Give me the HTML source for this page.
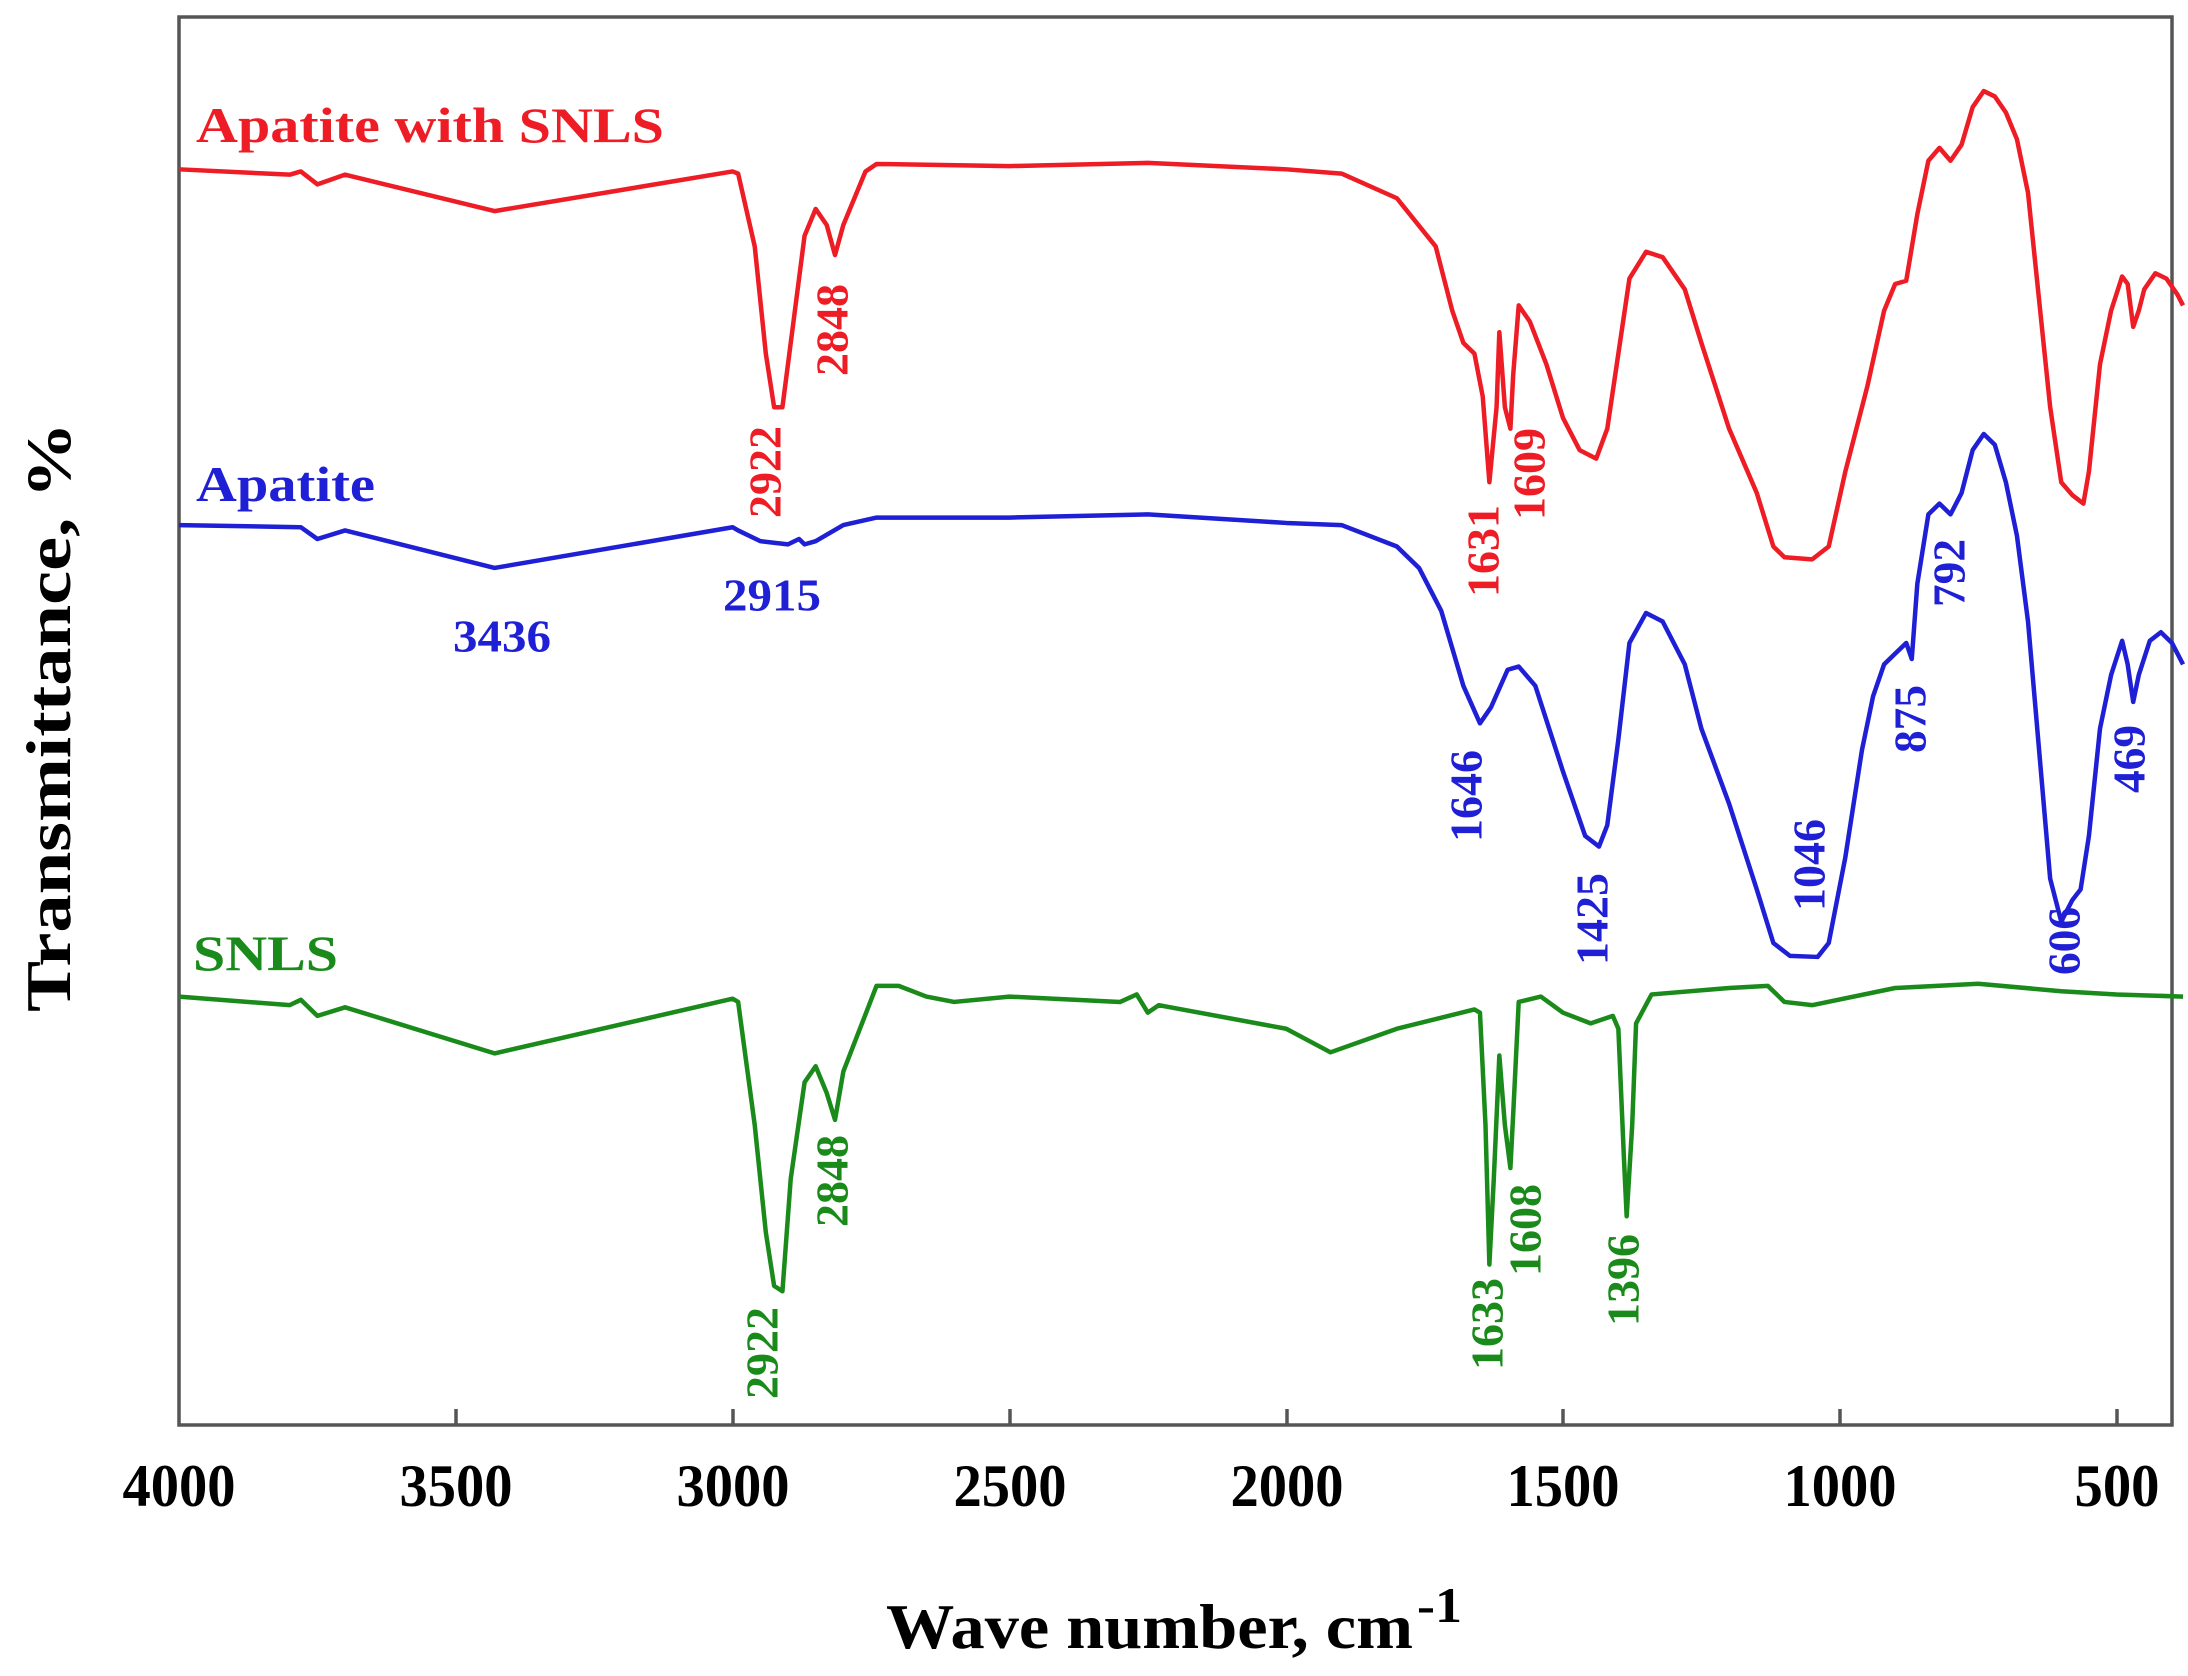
<!DOCTYPE html>
<html><head><meta charset="utf-8"><style>html,body{margin:0;padding:0;background:#fff}svg{display:block}</style></head>
<body>
<svg width="2188" height="1676" viewBox="0 0 2188 1676" xmlns="http://www.w3.org/2000/svg" font-family="Liberation Serif, serif" font-weight="bold">
<rect x="179" y="17" width="1993" height="1408" fill="none" stroke="#555" stroke-width="3.5"/>
<g stroke="#555" stroke-width="3.5">
<line x1="456" y1="1425" x2="456" y2="1409"/><line x1="733" y1="1425" x2="733" y2="1409"/><line x1="1010" y1="1425" x2="1010" y2="1409"/><line x1="1287" y1="1425" x2="1287" y2="1409"/><line x1="1563" y1="1425" x2="1563" y2="1409"/><line x1="1840" y1="1425" x2="1840" y2="1409"/><line x1="2117" y1="1425" x2="2117" y2="1409"/>
</g>
<g font-size="60" text-anchor="middle" fill="#000">
<text x="179" y="1506" textLength="113" lengthAdjust="spacingAndGlyphs">4000</text>
<text x="456" y="1506" textLength="113" lengthAdjust="spacingAndGlyphs">3500</text>
<text x="733" y="1506" textLength="113" lengthAdjust="spacingAndGlyphs">3000</text>
<text x="1010" y="1506" textLength="113" lengthAdjust="spacingAndGlyphs">2500</text>
<text x="1287" y="1506" textLength="113" lengthAdjust="spacingAndGlyphs">2000</text>
<text x="1563" y="1506" textLength="113" lengthAdjust="spacingAndGlyphs">1500</text>
<text x="1840" y="1506" textLength="113" lengthAdjust="spacingAndGlyphs">1000</text>
<text x="2117" y="1506" textLength="85" lengthAdjust="spacingAndGlyphs">500</text>
</g>
<text x="886" y="1648" font-size="64" textLength="527" lengthAdjust="spacingAndGlyphs">Wave number, cm</text>
<text x="1417" y="1622" font-size="50" textLength="45" lengthAdjust="spacingAndGlyphs">-1</text>
<text transform="translate(70,717) rotate(-90)" text-anchor="middle" font-size="64" textLength="590" lengthAdjust="spacingAndGlyphs">Transmittance, %</text>

<g transform="translate(2393.4,0) scale(-0.5536,1.0716)" fill="none" stroke-linejoin="round">
<polyline vector-effect="non-scaling-stroke" stroke="#ee1c25" stroke-width="4.5" points="4000,158 3800,163 3780,160 3750,172 3700,163 3430,197 3000,160 2990,162 2960,230 2940,330 2925,380 2910,380 2890,300 2870,220 2850,195 2830,210 2815,238 2800,210 2760,160 2740,153 2500,155 2250,152 2000,158 1900,162 1800,185 1730,230 1700,290 1680,320 1660,330 1645,370 1633,450 1620,380 1615,310 1605,380 1595,400 1590,350 1580,285 1560,300 1530,340 1500,390 1470,420 1440,428 1420,400 1400,330 1380,260 1350,235 1320,240 1280,270 1250,320 1200,400 1150,460 1120,510 1100,520 1050,522 1020,510 990,440 950,360 920,290 900,265 880,262 860,200 840,150 820,138 800,150 780,135 760,100 740,85 720,90 700,105 680,130 660,180 640,280 620,380 600,450 580,462 560,470 550,440 530,340 510,290 490,258 480,265 470,305 460,290 450,270 430,255 410,260 390,275 380,285"/>
<polyline vector-effect="non-scaling-stroke" stroke="#1f1fd6" stroke-width="4.5" points="4000,490 3780,492 3750,503 3700,495 3430,530 3000,492 2990,495 2950,505 2900,508 2880,503 2870,508 2850,505 2800,490 2740,483 2500,483 2250,480 2000,488 1900,490 1800,510 1760,530 1720,570 1680,640 1650,675 1630,660 1600,625 1580,622 1550,640 1500,720 1460,780 1435,790 1420,770 1400,690 1380,600 1350,572 1320,580 1280,620 1250,680 1200,750 1150,830 1120,880 1090,892 1040,893 1020,880 990,800 960,700 940,650 920,620 900,610 880,600 870,615 860,545 840,480 820,470 800,480 780,460 760,420 740,405 720,415 700,450 680,500 660,580 640,700 620,820 600,860 580,840 565,830 550,780 530,680 510,630 490,598 480,620 470,655 460,630 440,598 420,590 400,600 380,620"/>
<polyline vector-effect="non-scaling-stroke" stroke="#1a8a1a" stroke-width="4.5" points="4000,930 3800,938 3780,933 3750,948 3700,940 3430,983 3000,932 2990,935 2960,1050 2940,1150 2925,1200 2910,1205 2895,1100 2870,1010 2850,995 2830,1020 2815,1045 2800,1000 2770,960 2740,920 2700,920 2650,930 2600,935 2500,930 2300,935 2270,928 2250,945 2230,938 2000,960 1920,982 1800,960 1660,942 1650,945 1640,1050 1633,1180 1625,1100 1615,985 1605,1050 1595,1090 1590,1040 1580,935 1540,930 1500,945 1450,955 1410,948 1400,960 1390,1080 1385,1135 1375,1050 1368,955 1340,928 1200,922 1130,920 1100,935 1050,938 900,922 750,918 600,925 500,928 380,930"/>
</g>

<text x="196" y="142" font-size="50" fill="#ee1c25" textLength="468" lengthAdjust="spacingAndGlyphs">Apatite with SNLS</text>
<text x="196" y="501" font-size="50" fill="#1f1fd6" textLength="179" lengthAdjust="spacingAndGlyphs">Apatite</text>
<text x="193" y="970" font-size="50" fill="#1a8a1a" textLength="145" lengthAdjust="spacingAndGlyphs">SNLS</text>

<g font-size="46" text-anchor="middle" dominant-baseline="central">
<g fill="#ee1c25">
<text transform="translate(765,472) rotate(-90)" textLength="92" lengthAdjust="spacingAndGlyphs">2922</text>
<text transform="translate(832,330) rotate(-90)" textLength="92" lengthAdjust="spacingAndGlyphs">2848</text>
<text transform="translate(1483,551) rotate(-90)" textLength="92" lengthAdjust="spacingAndGlyphs">1631</text>
<text transform="translate(1529,474) rotate(-90)" textLength="92" lengthAdjust="spacingAndGlyphs">1609</text>
</g>
<g fill="#1f1fd6">
<text x="772" y="595" textLength="98" lengthAdjust="spacingAndGlyphs">2915</text>
<text x="502" y="636" textLength="98" lengthAdjust="spacingAndGlyphs">3436</text>
<text transform="translate(1466,796) rotate(-90)" textLength="92" lengthAdjust="spacingAndGlyphs">1646</text>
<text transform="translate(1592,919) rotate(-90)" textLength="92" lengthAdjust="spacingAndGlyphs">1425</text>
<text transform="translate(1809,865) rotate(-90)" textLength="92" lengthAdjust="spacingAndGlyphs">1046</text>
<text transform="translate(1910,719) rotate(-90)" textLength="68" lengthAdjust="spacingAndGlyphs">875</text>
<text transform="translate(1949,573) rotate(-90)" textLength="68" lengthAdjust="spacingAndGlyphs">792</text>
<text transform="translate(2064,941) rotate(-90)" textLength="68" lengthAdjust="spacingAndGlyphs">606</text>
<text transform="translate(2129,759) rotate(-90)" textLength="68" lengthAdjust="spacingAndGlyphs">469</text>
</g>
<g fill="#1a8a1a">
<text transform="translate(762,1353) rotate(-90)" textLength="92" lengthAdjust="spacingAndGlyphs">2922</text>
<text transform="translate(832,1181) rotate(-90)" textLength="92" lengthAdjust="spacingAndGlyphs">2848</text>
<text transform="translate(1487,1324) rotate(-90)" textLength="92" lengthAdjust="spacingAndGlyphs">1633</text>
<text transform="translate(1525,1230) rotate(-90)" textLength="92" lengthAdjust="spacingAndGlyphs">1608</text>
<text transform="translate(1623,1280) rotate(-90)" textLength="92" lengthAdjust="spacingAndGlyphs">1396</text>
</g>
</g>
</svg>
</body></html>
